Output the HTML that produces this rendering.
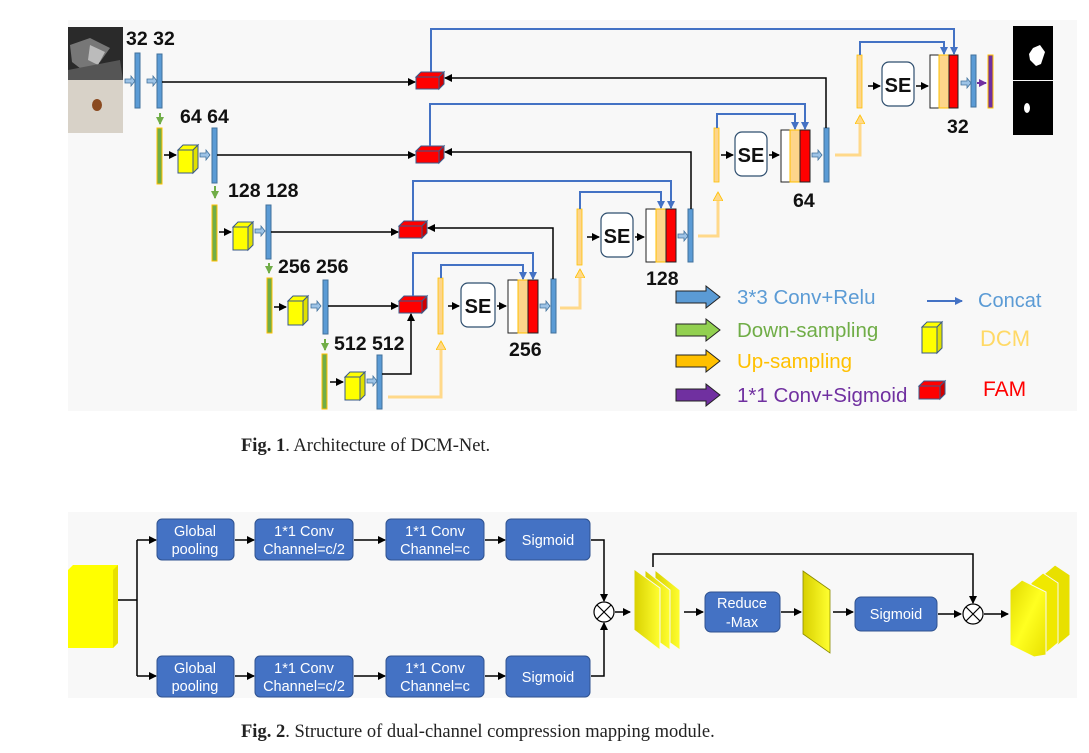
<!DOCTYPE html>
<html><head><meta charset="utf-8"><style>
html,body{margin:0;padding:0;background:#fff;}
svg{display:block;font-family:"Liberation Sans",Arial,sans-serif;}
</style></head><body>
<svg width="1089" height="753" viewBox="0 0 1089 753" xmlns="http://www.w3.org/2000/svg">
<defs>
<marker id="ak" markerWidth="8" markerHeight="8" refX="7" refY="4" orient="auto" markerUnits="userSpaceOnUse"><path d="M0,0 L8,4 L0,8 z" fill="#000"/></marker>
<marker id="ab" markerWidth="8" markerHeight="8" refX="7" refY="4" orient="auto" markerUnits="userSpaceOnUse"><path d="M0,0 L8,4 L0,8 z" fill="#4472c4"/></marker>
<marker id="ay" markerWidth="10" markerHeight="10" refX="8" refY="5" orient="auto" markerUnits="userSpaceOnUse"><path d="M0,0 L9,5 L0,10 z" fill="#ffd98a" stroke="#ffc000" stroke-width="0.8"/></marker>
<marker id="ag" markerWidth="8" markerHeight="8" refX="7" refY="4" orient="auto" markerUnits="userSpaceOnUse"><path d="M0,0 L8,4 L0,8 z" fill="#70ad47"/></marker>
<marker id="ap" markerWidth="8" markerHeight="8" refX="7" refY="4" orient="auto" markerUnits="userSpaceOnUse"><path d="M0,0 L8,4 L0,8 z" fill="#7030a0"/></marker>
<linearGradient id="yg" x1="0" y1="0" x2="1" y2="1"><stop offset="0" stop-color="#e0d800"/><stop offset="0.5" stop-color="#ffff20"/><stop offset="1" stop-color="#e8e000"/></linearGradient>
<linearGradient id="yg2" x1="0" y1="0" x2="1" y2="0"><stop offset="0" stop-color="#d8d000"/><stop offset="1" stop-color="#ffff30"/></linearGradient>
</defs>

<rect x="68" y="20" width="1009" height="391" fill="#f8f8f8"/>
<rect x="68" y="512" width="1009" height="186" fill="#f8f8f8"/>

<!-- input images -->
<rect x="68" y="27" width="55" height="53" fill="#2a2a2a"/>
<path d="M70,45 L90,38 L110,48 L100,62 L85,72 L72,62z" fill="#777"/>
<path d="M90,45 L105,52 L98,65 L88,60z" fill="#bbb"/>
<path d="M68,70 L120,60 L123,80 L68,80z" fill="#555"/>
<rect x="68" y="80" width="55" height="53" fill="#d8d2c8"/>
<ellipse cx="97" cy="105" rx="5" ry="6" fill="#8a4a20"/>

<g font-size="19.5" font-weight="bold" fill="#111">
<text x="126" y="45">32 32</text>
<text x="180" y="123">64 64</text>
<text x="228" y="197">128 128</text>
<text x="278" y="273">256 256</text>
<text x="334" y="350">512 512</text>
<text x="509" y="356">256</text>
<text x="646" y="285">128</text>
<text x="793" y="207">64</text>
<text x="947" y="133">32</text>
</g>

<g fill="#5b9bd5" stroke="#41719c" stroke-width="1">
<rect x="135" y="53" width="5" height="55"/>
<rect x="157" y="54" width="5" height="54"/>
<rect x="212" y="128" width="5" height="55"/>
<rect x="266" y="205" width="5" height="54"/>
<rect x="323" y="280" width="5" height="54"/>
<rect x="377" y="355" width="5" height="54"/>
<rect x="551" y="279" width="5" height="54"/>
<rect x="688" y="209" width="5" height="53"/>
<rect x="824" y="128" width="5" height="54"/>
<rect x="971" y="55" width="5" height="52"/>
</g>
<rect x="988" y="55" width="5" height="53" fill="#7030a0" stroke="#ffc000" stroke-width="1"/>
<g fill="#70ad47" stroke="#ffc000" stroke-width="1">
<rect x="157" y="128" width="5" height="56"/>
<rect x="212" y="205" width="5" height="56"/>
<rect x="267" y="278" width="5" height="55"/>
<rect x="322" y="354" width="5" height="55"/>
</g>
<g stroke="#70ad47" stroke-width="2" marker-end="url(#ag)">
<line x1="160" y1="113" x2="160" y2="124"/>
<line x1="215" y1="186" x2="215" y2="198"/>
<line x1="269" y1="263" x2="269" y2="273"/>
<line x1="325" y1="339" x2="325" y2="350"/>
</g>
<g fill="#9dc3e6" stroke="#41719c" stroke-width="0.8">
<path d="M125,79 h6 v-3 l4,5 l-4,5 v-3 h-6z"/>
<path d="M147,79 h6 v-3 l4,5 l-4,5 v-3 h-6z"/>
<path d="M200,153 h6 v-3 l4,5 l-4,5 v-3 h-6z"/>
<path d="M255,229 h6 v-3 l4,5 l-4,5 v-3 h-6z"/>
<path d="M311,304 h6 v-3 l4,5 l-4,5 v-3 h-6z"/>
<path d="M367,379 h6 v-3 l4,5 l-4,5 v-3 h-6z"/>
<path d="M540,304 h6 v-3 l4,5 l-4,5 v-3 h-6z"/>
<path d="M678,234 h6 v-3 l4,5 l-4,5 v-3 h-6z"/>
<path d="M812,153 h6 v-3 l4,5 l-4,5 v-3 h-6z"/>
<path d="M961,81 h6 v-3 l4,5 l-4,5 v-3 h-6z"/>
</g>
<line x1="977" y1="83" x2="986" y2="83" stroke="#7030a0" stroke-width="2" marker-end="url(#ap)"/>

<g stroke="#000" stroke-width="1.5" marker-end="url(#ak)">
<line x1="164" y1="155" x2="176" y2="155"/>
<line x1="219" y1="232" x2="231" y2="232"/>
<line x1="274" y1="307" x2="286" y2="307"/>
<line x1="330" y1="382" x2="343" y2="382"/>
</g>

<g stroke="#3a5a8a" stroke-width="1">
<g><rect x="178" y="150" width="15" height="23" fill="#ffff00"/><path d="M178,150 L183,145 L198,145 L193,150z" fill="#ffff00"/><path d="M193,150 L198,145 L198,168 L193,173z" fill="#e0e000"/></g>
<g><rect x="233" y="227" width="15" height="23" fill="#ffff00"/><path d="M233,227 L238,222 L253,222 L248,227z" fill="#ffff00"/><path d="M248,227 L253,222 L253,245 L248,250z" fill="#e0e000"/></g>
<g><rect x="288" y="301" width="15" height="24" fill="#ffff00"/><path d="M288,301 L293,296 L308,296 L303,301z" fill="#ffff00"/><path d="M303,301 L308,296 L308,320 L303,325z" fill="#e0e000"/></g>
<g><rect x="345" y="377" width="15" height="23" fill="#ffff00"/><path d="M345,377 L350,372 L365,372 L360,377z" fill="#ffff00"/><path d="M360,377 L365,372 L365,395 L360,400z" fill="#e0e000"/></g>
</g>

<g stroke="#3a5a8a" stroke-width="1">
<g><rect x="416" y="77" width="23" height="12" fill="#ff0000"/><path d="M416,77 L421,72 L444,72 L439,77z" fill="#ff0000"/><path d="M439,77 L444,72 L444,84 L439,89z" fill="#d00000"/></g>
<g><rect x="416" y="151" width="23" height="12" fill="#ff0000"/><path d="M416,151 L421,146 L444,146 L439,151z" fill="#ff0000"/><path d="M439,151 L444,146 L444,158 L439,163z" fill="#d00000"/></g>
<g><rect x="399" y="226" width="23" height="12" fill="#ff0000"/><path d="M399,226 L404,221 L427,221 L422,226z" fill="#ff0000"/><path d="M422,226 L427,221 L427,233 L422,238z" fill="#d00000"/></g>
<g><rect x="399" y="301" width="23" height="12" fill="#ff0000"/><path d="M399,301 L404,296 L427,296 L422,301z" fill="#ff0000"/><path d="M422,301 L427,296 L427,308 L422,313z" fill="#d00000"/></g>
</g>

<g stroke="#000" stroke-width="1.5" fill="none" marker-end="url(#ak)">
<line x1="162" y1="82" x2="415" y2="82"/>
<line x1="217" y1="155" x2="415" y2="155"/>
<line x1="271" y1="232" x2="398" y2="232"/>
<line x1="328" y1="306" x2="398" y2="306"/>
<path d="M382,374 H411 V314"/>
<path d="M553,279 V228 H428"/>
<path d="M691,209 V152 H445"/>
<path d="M826,128 V78 H445"/>
</g>

<g stroke="#ffd98a" stroke-width="3" fill="none" marker-end="url(#ay)">
<path d="M388,397 H441 V342"/>
<path d="M560,308 H580 V270"/>
<path d="M698,236 H718 V193"/>
<path d="M835,155 H860 V116"/>
</g>

<g fill="#fdd58a" stroke="#ffc000" stroke-width="0.8">
<rect x="438" y="278" width="5" height="56"/>
<rect x="577" y="209" width="5" height="56"/>
<rect x="714" y="128" width="5" height="54"/>
<rect x="857" y="55" width="5" height="53"/>
</g>

<g fill="#fff" stroke="#2f4f6f" stroke-width="1.2">
<rect x="461" y="283" width="34" height="44" rx="7"/>
<rect x="601" y="213" width="32" height="44" rx="7"/>
<rect x="735" y="132" width="32" height="44" rx="7"/>
<rect x="882" y="62" width="32" height="44" rx="7"/>
</g>
<g font-size="20" font-weight="bold" fill="#111" text-anchor="middle">
<text x="478" y="313">SE</text>
<text x="617" y="243">SE</text>
<text x="751" y="162">SE</text>
<text x="898" y="92">SE</text>
</g>
<g stroke="#000" stroke-width="1.5" marker-end="url(#ak)">
<line x1="448" y1="306" x2="459" y2="306"/>
<line x1="497" y1="306" x2="506" y2="306"/>
<line x1="587" y1="237" x2="599" y2="237"/>
<line x1="635" y1="237" x2="644" y2="237"/>
<line x1="721" y1="155" x2="733" y2="155"/>
<line x1="769" y1="155" x2="779" y2="155"/>
<line x1="868" y1="86" x2="880" y2="86"/>
<line x1="916" y1="86" x2="928" y2="86"/>
</g>

<g stroke="#222" stroke-width="1">
<rect x="508" y="280" width="10" height="53" fill="#fff"/><rect x="518" y="280" width="10" height="53" fill="#fdd58a" stroke="#ffc000"/><rect x="528" y="280" width="10" height="53" fill="#f00"/>
<rect x="646" y="209" width="10" height="53" fill="#fff"/><rect x="656" y="209" width="10" height="53" fill="#fdd58a" stroke="#ffc000"/><rect x="666" y="209" width="10" height="53" fill="#f00"/>
<rect x="781" y="130" width="9" height="52" fill="#fff"/><rect x="790" y="130" width="10" height="52" fill="#fdd58a" stroke="#ffc000"/><rect x="800" y="130" width="10" height="52" fill="#f00"/>
<rect x="930" y="55" width="9" height="53" fill="#fff"/><rect x="939" y="55" width="10" height="53" fill="#fdd58a" stroke="#ffc000"/><rect x="949" y="55" width="9" height="53" fill="#f00"/>
</g>

<g stroke="#4472c4" stroke-width="2" fill="none" marker-end="url(#ab)">
<path d="M413,296 V253 H533 V279"/>
<path d="M441,278 V265 H523 V279"/>
<path d="M413,221 V181 H671 V208"/>
<path d="M580,209 V192 H661 V208"/>
<path d="M430,146 V104 H805 V129"/>
<path d="M717,128 V114 H795 V129"/>
<path d="M431,72 V29 H954 V54"/>
<path d="M860,55 V42 H944 V54"/>
</g>

<rect x="1013" y="26" width="40" height="54" fill="#000"/>
<rect x="1013" y="81" width="40" height="54" fill="#000"/>
<path d="M1033,48 L1040,45 L1045,52 L1041,64 L1036,66 L1030,60 L1029,54z" fill="#fff"/>
<ellipse cx="1027" cy="108" rx="3" ry="5" fill="#fff"/>

<!-- legend -->
<g stroke="#222" stroke-width="1">
<path d="M676,291 H706 V286 L720,297 L706,308 V303 H676z" fill="#5b9bd5"/>
<path d="M676,324 H706 V319 L720,330 L706,341 V336 H676z" fill="#92d050"/>
<path d="M676,355 H706 V350 L720,361 L706,372 V367 H676z" fill="#ffc000"/>
<path d="M676,389 H706 V384 L720,395 L706,406 V401 H676z" fill="#7030a0"/>
</g>
<g font-size="20.5">
<text x="737" y="304" fill="#5b9bd5">3*3 Conv+Relu</text>
<text x="737" y="337" fill="#70ad47">Down-sampling</text>
<text x="737" y="368" fill="#ffc000">Up-sampling</text>
<text x="737" y="402" fill="#7030a0">1*1 Conv+Sigmoid</text>
<text x="978" y="307" fill="#5b9bd5" font-size="20">Concat</text>
<text x="980" y="346" fill="#ffd966" font-size="22">DCM</text>
<text x="983" y="396" fill="#ff0000" font-size="21">FAM</text>
</g>
<line x1="927" y1="301" x2="962" y2="301" stroke="#4472c4" stroke-width="2" marker-end="url(#ab)"/>
<g stroke="#3a5a8a" stroke-width="1">
<rect x="922" y="327" width="15" height="26" fill="#ffff00"/><path d="M922,327 L927,322 L942,322 L937,327z" fill="#ffff00"/><path d="M937,327 L942,322 L942,348 L937,353z" fill="#e0e000"/>
<rect x="919" y="386" width="21" height="13" fill="#ff0000"/><path d="M919,386 L924,381 L945,381 L940,386z" fill="#ff0000"/><path d="M940,386 L945,381 L945,394 L940,399z" fill="#d00000"/>
</g>

<text x="241" y="451" font-family="Liberation Serif,serif" font-size="18.5" fill="#222"><tspan font-weight="bold">Fig. 1</tspan>.  Architecture of DCM-Net.</text>

<!-- Figure 2 -->
<path d="M68,570 L73,565 L118,565 L118,643 L113,648 L68,648z" fill="#ffff00"/>
<path d="M113,570 L118,565 L118,643 L113,648z" fill="#e8e000"/>
<g stroke="#000" stroke-width="1.5" fill="none">
<line x1="118" y1="600" x2="137" y2="600"/>
<line x1="137" y1="540" x2="137" y2="676"/>
</g>
<g stroke="#000" stroke-width="1.5" marker-end="url(#ak)">
<line x1="137" y1="540" x2="156" y2="540"/>
<line x1="137" y1="676" x2="156" y2="676"/>
<line x1="235" y1="540" x2="254" y2="540"/>
<line x1="354" y1="540" x2="385" y2="540"/>
<line x1="485" y1="540" x2="505" y2="540"/>
<line x1="235" y1="676" x2="254" y2="676"/>
<line x1="354" y1="676" x2="385" y2="676"/>
<line x1="485" y1="676" x2="505" y2="676"/>
</g>
<g stroke="#000" stroke-width="1.5" fill="none" marker-end="url(#ak)">
<path d="M591,540 H604 V601"/>
<path d="M591,676 H604 V623"/>
<line x1="615" y1="612" x2="630" y2="612"/>
<line x1="684" y1="612" x2="703" y2="612"/>
<line x1="781" y1="612" x2="801" y2="612"/>
<line x1="833" y1="612" x2="853" y2="612"/>
<line x1="938" y1="614" x2="961" y2="614"/>
<line x1="984" y1="614" x2="1008" y2="614"/>
<path d="M653,567 V554 H973 V603"/>
</g>
<g fill="#4472c4" stroke="#2f528f" stroke-width="1">
<rect x="157" y="519" width="77" height="41" rx="5"/>
<rect x="255" y="519" width="98" height="41" rx="5"/>
<rect x="386" y="519" width="98" height="41" rx="5"/>
<rect x="506" y="519" width="84" height="41" rx="5"/>
<rect x="157" y="656" width="77" height="41" rx="5"/>
<rect x="255" y="656" width="98" height="41" rx="5"/>
<rect x="386" y="656" width="98" height="41" rx="5"/>
<rect x="506" y="656" width="84" height="41" rx="5"/>
<rect x="705" y="592" width="75" height="40" rx="6"/>
<rect x="855" y="597" width="82" height="34" rx="6"/>
</g>
<g fill="#fff" font-size="14.5" text-anchor="middle">
<text x="195" y="536">Global</text><text x="195" y="554">pooling</text>
<text x="304" y="536">1*1 Conv</text><text x="304" y="554">Channel=c/2</text>
<text x="435" y="536">1*1 Conv</text><text x="435" y="554">Channel=c</text>
<text x="548" y="545">Sigmoid</text>
<text x="195" y="673">Global</text><text x="195" y="691">pooling</text>
<text x="304" y="673">1*1 Conv</text><text x="304" y="691">Channel=c/2</text>
<text x="435" y="673">1*1 Conv</text><text x="435" y="691">Channel=c</text>
<text x="548" y="682">Sigmoid</text>
<text x="742" y="608">Reduce</text><text x="742" y="627">-Max</text>
<text x="896" y="619">Sigmoid</text>
</g>
<g fill="#fff" stroke="#000" stroke-width="1.2">
<circle cx="604" cy="612" r="10"/><path d="M597,605 L611,619 M611,605 L597,619" fill="none"/>
<circle cx="973" cy="614" r="10"/><path d="M966,607 L980,621 M980,607 L966,621" fill="none"/>
</g>
<g fill="url(#yg2)" stroke="#f8f8f8" stroke-width="1">
<path d="M655,570 L680,590 L680,650 L655,632z"/>
<path d="M645,570 L670,590 L670,650 L645,632z"/>
<path d="M634,569 L660,588 L660,650 L634,630z"/>
</g>
<path d="M803,571 L830,590 L830,653 L803,634z" fill="url(#yg2)" stroke="#8a8a00" stroke-width="0.8"/>
<g stroke="#f8f8f8" stroke-width="1">
<path d="M1043,575 L1055,565 L1070,575 L1070,635 L1058,645 L1043,635z" fill="#e8e000"/>
<path d="M1031,583 L1043,573 L1058,583 L1058,643 L1046,653 L1031,643z" fill="#f0e800"/>
<path d="M1010,590 L1022,580 L1046,592 L1046,655 L1034,657 L1010,645z" fill="url(#yg)"/>
</g>

<text x="241" y="737" font-family="Liberation Serif,serif" font-size="18.5" fill="#222"><tspan font-weight="bold">Fig. 2</tspan>.  Structure of dual-channel compression mapping module.</text>
</svg>
</body></html>
